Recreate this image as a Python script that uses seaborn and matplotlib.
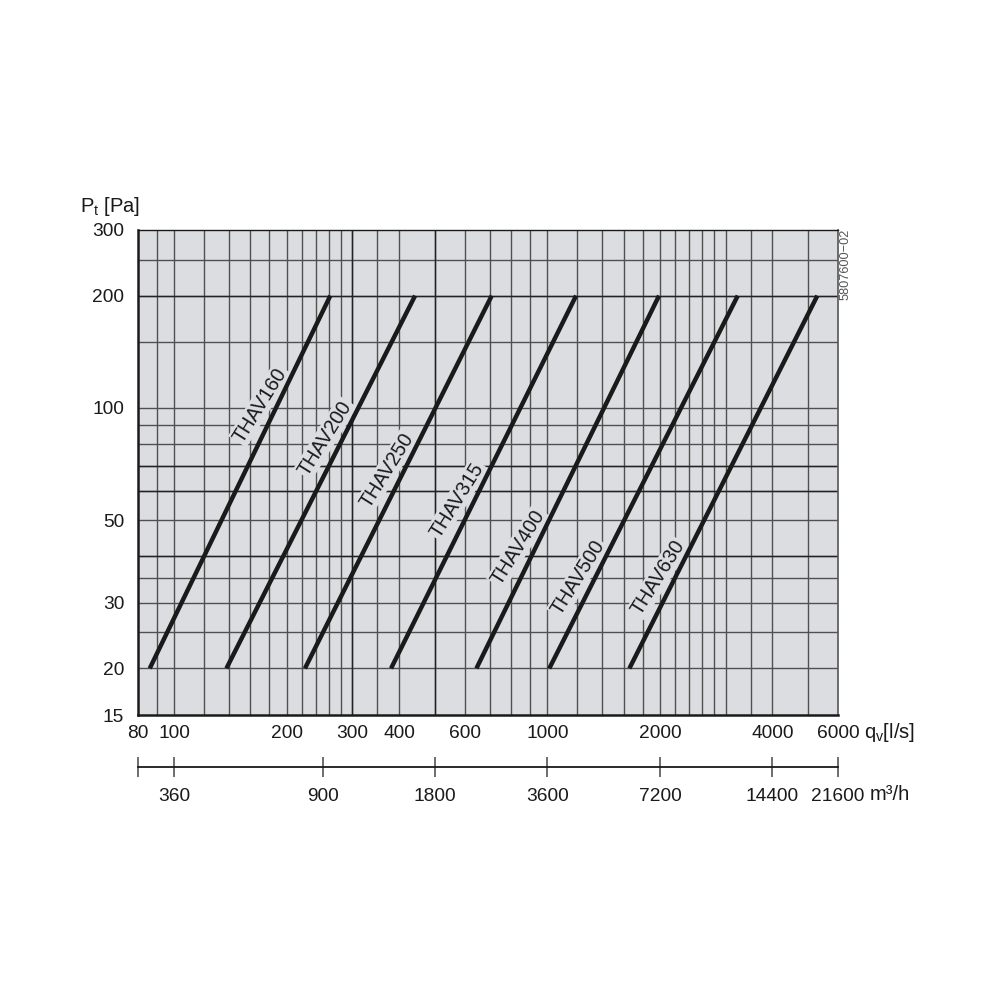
import pandas as pd
import seaborn as sns
import matplotlib.pyplot as plt
from matplotlib.ticker import NullFormatter, NullLocator

# Pressure drop lines, read at the two ends (20 Pa and 200 Pa)
models = ["THAV160", "THAV200", "THAV250", "THAV315", "THAV400", "THAV500", "THAV630"]
q_low = [86, 138, 224, 381, 645, 1011, 1657]      # l/s at 20 Pa
q_high = [262, 442, 709, 1193, 1990, 3234, 5283]  # l/s at 200 Pa
p_low = 20
p_high = 200

# label anchor points (l/s, Pa)
label_q = [170, 254, 372, 572, 834, 1207, 1978]
label_p = [101.8, 83.0, 68.1, 56.6, 42.3, 35.0, 35.0]

# axes
x_ticks = [80, 100, 200, 300, 400, 600, 1000, 2000, 4000, 6000]
y_ticks = [15, 20, 30, 50, 100, 200, 300]
x_grid = [90, 100, 120, 140, 160, 180, 200, 220, 240, 260, 280, 300, 350, 400,
          500, 600, 700, 800, 900, 1000, 1200, 1400, 1600, 1800, 2000, 2200,
          2400, 2600, 2800, 3000, 3500, 4000, 5000]
y_grid = [20, 25, 30, 35, 40, 50, 60, 70, 80, 90, 100, 150, 200, 250]
x_dark = [300, 500]
y_dark = [40, 60, 70, 200]
m3h_ticks = [288, 360, 900, 1800, 3600, 7200, 14400, 21600]
m3h_labels = ["", "360", "900", "1800", "3600", "7200", "14400", "21600"]

bg = "#dcdde0"
ink = "#1a1a1a"

sns.set_style("ticks")
plt.rcParams["font.family"] = ["Liberation Sans", "DejaVu Sans"]
plt.rcParams["mathtext.fontset"] = "custom"
plt.rcParams["mathtext.rm"] = "Liberation Sans"

rows = []
for m, a, b in zip(models, q_low, q_high):
    rows.append({"model": m, "q": a, "p": p_low})
    rows.append({"model": m, "q": b, "p": p_high})
df = pd.DataFrame(rows)

fig = plt.figure(figsize=(10, 10), dpi=100)
ax = fig.add_axes([0.138, 0.285, 0.700, 0.485])
ax.set_facecolor(bg)
ax.set_xscale("log")
ax.set_yscale("log")
ax.set_xlim(80, 6000)
ax.set_ylim(15, 300)

# grid via minor ticks (keep the ones that sit on labelled ticks too)
ax.xaxis.remove_overlapping_locs = False
ax.yaxis.remove_overlapping_locs = False
ax.set_xticks(x_grid, minor=True)
ax.set_yticks(y_grid, minor=True)
ax.xaxis.set_minor_formatter(NullFormatter())
ax.yaxis.set_minor_formatter(NullFormatter())
ax.grid(which="minor", color="#505050", lw=1.0)
ax.grid(which="major", visible=False)
ax.set_axisbelow(True)
for v in x_dark:
    ax.axvline(v, color="#222222", lw=1.0, zorder=0.6)
for v in y_dark:
    ax.axhline(v, color="#222222", lw=1.0, zorder=0.6)

ax.set_xticks(x_ticks, labels=[str(v) for v in x_ticks])
ax.set_yticks(y_ticks, labels=[str(v) for v in y_ticks])
ax.tick_params(which="both", length=0, labelsize=13.8, colors=ink)
ax.tick_params(axis="x", pad=7)
ax.tick_params(axis="y", pad=10)

sns.lineplot(data=df, x="q", y="p", units="model", estimator=None,
             color=ink, lw=3.2, ax=ax, solid_capstyle="butt")
ax.set_xlabel("")
ax.set_ylabel("")

for m, xq, yp in zip(models, label_q, label_p):
    ax.text(xq, yp, m, rotation=58, rotation_mode="anchor", ha="center",
            va="center", fontsize=14.2, color=ink, zorder=1.5,
            bbox=dict(facecolor=bg, edgecolor="none", pad=1.0))

for side in ["left", "bottom"]:
    ax.spines[side].set_linewidth(1.8)
    ax.spines[side].set_color(ink)
ax.spines["top"].set_linewidth(1.0)
ax.spines["top"].set_color(ink)
ax.spines["right"].set_linewidth(1.2)
ax.spines["right"].set_color("#555555")

# second flow axis in m3/h
sec = ax.secondary_xaxis(-0.107, functions=(lambda q: q * 3.6, lambda m: m / 3.6))
sec.set_xticks(m3h_ticks, labels=m3h_labels)
sec.xaxis.set_minor_locator(NullLocator())
sec.tick_params(direction="inout", length=15, width=1.2, color="#555555",
                labelsize=13.8, pad=8, labelcolor=ink)
sec.spines["bottom"].set_linewidth(1.3)
sec.spines["bottom"].set_color(ink)

fig.text(0.080, 1 - 0.207, r"P$_\mathregular{t}$ [Pa]", fontsize=14.5,
         ha="left", va="center", color=ink)
fig.text(0.864, 1 - 0.733, r"q$_\mathregular{v}$[l/s]", fontsize=14.5,
         ha="left", va="center", color=ink)
fig.text(0.870, 1 - 0.795, "m³/h", fontsize=14.5, ha="left", va="center",
         color=ink)
fig.text(0.846, 1 - 0.229, "5807600\u221202", rotation=90, fontsize=9.2,
         ha="center", va="top", color="#555555")

fig.savefig("out.png", dpi=100, facecolor="white")
